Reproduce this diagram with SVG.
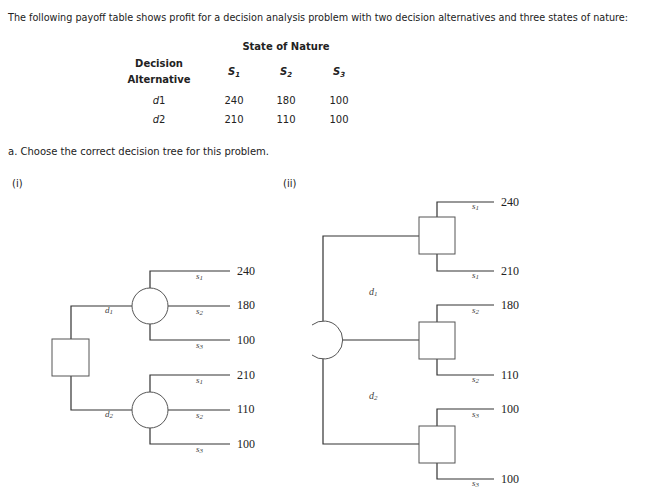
<svg xmlns="http://www.w3.org/2000/svg" width="645" height="499" viewBox="0 0 645 499">
<style>
.v{font-family:"DejaVu Sans",Verdana,sans-serif;font-size:10px;fill:#222}
.b{font-weight:bold}
.m{text-anchor:middle}
.t{font-family:"Liberation Serif",serif;font-size:12px;fill:#222}
.s{font-family:"Liberation Serif",serif;font-size:9px;font-style:italic;fill:#444}
.l{stroke:#333;stroke-width:1.2;fill:none}
.n{stroke:#555;stroke-width:1;fill:#fff}
</style>
<rect width="645" height="499" fill="#fff"/>
<text class="v" x="8" y="21" textLength="620" lengthAdjust="spacingAndGlyphs">The following payoff table shows profit for a decision analysis problem with two decision alternatives and three states of nature:</text>
<text class="v b m" x="286" y="50">State of Nature</text>
<text class="v b m" x="159" y="67">Decision</text>
<text class="v b m" x="159" y="83">Alternative</text>
<text class="v b m" x="234" y="75" font-style="italic">S<tspan font-size="7" dy="2">1</tspan></text>
<text class="v b m" x="286" y="75" font-style="italic">S<tspan font-size="7" dy="2">2</tspan></text>
<text class="v b m" x="339" y="75" font-style="italic">S<tspan font-size="7" dy="2">3</tspan></text>
<text class="v m" x="159" y="104"><tspan font-style="italic">d</tspan>1</text>
<text class="v m" x="159" y="123"><tspan font-style="italic">d</tspan>2</text>
<g class="v m"><text x="234" y="104">240</text><text x="286" y="104">180</text><text x="339" y="104">100</text>
<text x="234" y="123">210</text><text x="286" y="123">110</text><text x="339" y="123">100</text></g>
<text class="v" x="8" y="155">a. Choose the correct decision tree for this problem.</text>
<text class="v" x="12" y="187">(i)</text>
<text class="v" x="283" y="187">(ii)</text>
<g id="connectors">
<path class="l" d="M71 339V306H132M71 376V410H132"/>
<path class="l" d="M150 288V271H230M168 306H230M150 324V340H230"/>
<path class="l" d="M150 392V375H230M168 410H230M150 428V444H230"/>
<path class="l" d="M323 321V236H419M342 340H419M323 359V444H419"/>
<path class="l" d="M437 217V202H494M437 254V271H494M437 322V305H494M437 359V375H494M437 426V409H494M437 463V479H494"/>
</g>
<g id="tree1-decision"><rect class="n" x="52" y="339" width="37" height="37"/></g>
<g id="tree1-chance1"><circle class="n" cx="150" cy="306" r="18"/></g>
<g id="tree1-chance2"><circle class="n" cx="150" cy="410" r="18"/></g>
<g id="tree2-chance"><path class="n" d="M312 325A19 19 0 1 1 312 355" fill="none"/></g>
<g id="tree2-d1"><rect class="n" x="419" y="217" width="36" height="37"/></g>
<g id="tree2-d2"><rect class="n" x="419" y="322" width="36" height="37"/></g>
<g id="tree2-d3"><rect class="n" x="419" y="426" width="36" height="37"/></g>
<g class="t">
<text x="237" y="275">240</text><text x="237" y="309">180</text><text x="237" y="344">100</text>
<text x="237" y="379">210</text><text x="237" y="413">110</text><text x="237" y="448">100</text>
<text x="501" y="206">240</text><text x="501" y="275">210</text><text x="501" y="309">180</text>
<text x="501" y="379">110</text><text x="501" y="413">100</text><text x="501" y="483">100</text>
</g>
<g class="s">
<text x="105" y="313">d<tspan font-size="7" dy="1">1</tspan></text>
<text x="105" y="417">d<tspan font-size="7" dy="1">2</tspan></text>
<text x="196" y="279">s<tspan font-size="7" dy="1">1</tspan></text>
<text x="196" y="314">s<tspan font-size="7" dy="1">2</tspan></text>
<text x="196" y="348">s<tspan font-size="7" dy="1">3</tspan></text>
<text x="196" y="383">s<tspan font-size="7" dy="1">1</tspan></text>
<text x="196" y="418">s<tspan font-size="7" dy="1">2</tspan></text>
<text x="196" y="452">s<tspan font-size="7" dy="1">3</tspan></text>
<text x="472" y="209">s<tspan font-size="7" dy="1">1</tspan></text>
<text x="472" y="278">s<tspan font-size="7" dy="1">1</tspan></text>
<text x="472" y="313">s<tspan font-size="7" dy="1">2</tspan></text>
<text x="472" y="382">s<tspan font-size="7" dy="1">2</tspan></text>
<text x="472" y="417">s<tspan font-size="7" dy="1">3</tspan></text>
<text x="472" y="486">s<tspan font-size="7" dy="1">3</tspan></text>
<text x="369" y="295" font-size="10">d<tspan font-size="7" dy="1">1</tspan></text>
<text x="369" y="399" font-size="10">d<tspan font-size="7" dy="1">2</tspan></text>
</g>
</svg>
